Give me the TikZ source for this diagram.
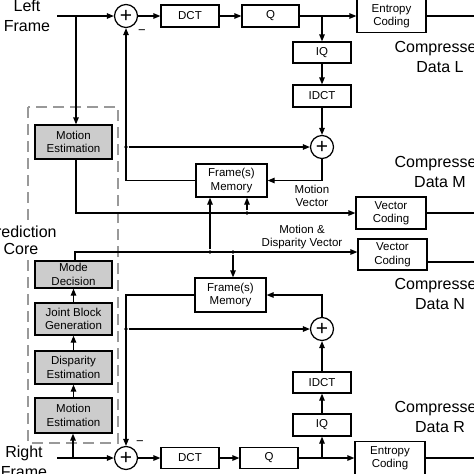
\documentclass[tikz,border=0pt]{standalone}
\usepackage{fontspec}
\setmainfont{Liberation Sans}
\usetikzlibrary{arrows.meta,calc}
\begin{document}
\begin{tikzpicture}[x=1pt,y=-1pt,
  line width=1.25pt,
  box/.style={draw, line width=1.25pt, inner sep=0pt, font=\fontsize{11.5}{13.5}\selectfont, align=center},
  gbox/.style={box, fill=gray!40},
  sumnode/.style={circle, draw, line width=1.25pt, minimum size=23pt, inner sep=0pt, font=\fontsize{21}{21}\selectfont},
  big/.style={font=\fontsize{16}{20}\selectfont, align=center, inner sep=1pt},
  lbl/.style={font=\fontsize{11.5}{13.5}\selectfont, align=center, inner sep=0pt},
  arr/.style={-{Triangle[length=7pt,width=5.5pt]}},
  dot/.style={circle, fill, inner sep=0pt, minimum size=3.8pt},
  corebox/.style={draw=gray!80, line width=2.5pt, dash pattern=on 11pt off 6pt},
  minus/.style={font=\fontsize{13}{13}\selectfont, inner sep=0pt}
]
\useasboundingbox (0,0) rectangle (474,474);
\draw[corebox] (28,107) rectangle (118,443);

% texts
\node[big] (lf) at (27,16) {Left\\Frame};
\node[big] (rf) at (24,462) {Right\\Frame};
\node[big, fill=white, font=\fontsize{16}{17}\selectfont] (pc) at (21,240) {Prediction\\Core};
\node[big] (cl) at (440,57) {Compressed\\Data L};
\node[big] (cm) at (440,172) {Compressed\\Data M};
\node[big] (cn) at (440,294) {Compressed\\Data N};
\node[big] (cr) at (440,417) {Compressed\\Data R};
\node[lbl] (mv) at (312,196) {Motion\\Vector};
\node[lbl] (mdv) at (302,237) {Motion \&\\Disparity Vector};

% top chain
\node[sumnode] (s1) at (126,16) {+};
\node[minus] (mi1) at (142,32) {−};
\node[box, minimum width=58pt, minimum height=22pt] (dct1) at (190,16) {DCT};
\node[box, minimum width=57pt, minimum height=22pt] (q1) at (270.5,16) {Q};
\node[box, minimum width=69pt, minimum height=33pt] (ec1) at (391.5,16) {Entropy\\Coding};
\node[box, minimum width=58pt, minimum height=21pt] (iq1) at (322,52.5) {IQ};
\node[box, minimum width=58pt, minimum height=22pt] (idct1) at (322,96) {IDCT};
\node[sumnode] (p1) at (322,147) {+};
\node[box, minimum width=71pt, minimum height=33pt] (m1) at (231.5,180.5) {Frame(s)\\Memory};
\node[box, minimum width=70pt, minimum height=32pt] (vc1) at (391,213) {Vector\\Coding};
\node[box, minimum width=69pt, minimum height=31pt] (vc2) at (392.5,254.5) {Vector\\Coding};
\node[box, minimum width=71pt, minimum height=34pt] (m2) at (230.5,295) {Frame(s)\\Memory};
\node[sumnode] (p2) at (322,329) {+};
\node[box, minimum width=58pt, minimum height=21pt] (idct2) at (322,382.5) {IDCT};
\node[box, minimum width=58pt, minimum height=22pt] (iq2) at (322,425) {IQ};
\node[sumnode] (s2) at (126,458) {+};
\node[minus] (mi2) at (140,443) {−};
\node[box, minimum width=58pt, minimum height=21pt] (dct2) at (190,458) {DCT};
\node[box, minimum width=58pt, minimum height=21pt] (q2) at (269,458) {Q};
\node[box, minimum width=70pt, minimum height=33pt] (ec2) at (390,458) {Entropy\\Coding};

% prediction core
\node[gbox, minimum width=77pt, minimum height=34pt] (me1) at (73.5,142) {Motion\\Estimation};
\node[gbox, minimum width=77pt, minimum height=27pt] (md) at (73.5,274.5) {Mode\\Decision};
\node[gbox, minimum width=77pt, minimum height=32pt] (jbg) at (73.5,319) {Joint Block\\Generation};
\node[gbox, minimum width=77pt, minimum height=33pt] (de) at (73.5,367.5) {Disparity\\Estimation};
\node[gbox, minimum width=77pt, minimum height=35pt] (me2) at (73.5,415.5) {Motion\\Estimation};

% coordinates
\coordinate (lfin) at (57,16);
\coordinate (rfin) at (57,458);
\coordinate (b1) at (76,16);
\coordinate (b2) at (322,16);
\coordinate (b3) at (73,458);
\coordinate (b4) at (322,458);
\coordinate (k1) at (76,213);
\coordinate (k2) at (75,252);
\coordinate (o1) at (474,16);
\coordinate (o2) at (474,213);
\coordinate (o3) at (474,262);
\coordinate (o4) at (474,458);

% top connectors
\draw[arr] (lfin) -- (s1);
\draw[arr] (b1) -- (b1 |- me1.north);
\draw[arr] (s1) -- (dct1);
\draw[arr] (dct1) -- (q1);
\draw[arr] (q1) -- (ec1);
\draw (ec1) -- (o1);
\draw[arr] (b2) -- (iq1);
\draw[arr] (iq1) -- (idct1);
\draw[arr] (idct1) -- (p1);
\draw[arr] (p1.south) |- (m1.east);
\draw[arr] (m1.west) -| (s1.south);
\node[dot] (d1) at (126,147) {};
\draw[arr] (d1) -- (p1.west);

% vectors
\draw[arr] (b1 |- me1.south) -- (k1) -- (k1 -| vc1.west);
\node[dot] (d2) at (247,213) {};
\draw[arr] (d2) -- (d2 |- m1.south);
\draw (vc1) -- (o2);
\draw[arr] (k2 |- md.north) -- (k2) -- (k2 -| vc2.west);
\node[dot] (d3) at (210,252) {};
\draw[arr] (d3) -- (d3 |- m1.south);
\node[dot] (d4) at (233,252) {};
\draw[arr] (d4) -- (d4 |- m2.north);
\draw (vc2.east |- o3) -- (o3);

% bottom connectors
\draw[arr] (p2.north) |- (m2.east);
\draw[arr] (m2.west) -| (s2.north);
\node[dot] (d5) at (126,329) {};
\draw[arr] (d5) -- (p2.west);
\draw[arr] (rfin) -- (s2);
\draw[arr] (b3) -- (b3 |- me2.south);
\draw[arr] (s2) -- (dct2);
\draw[arr] (dct2) -- (q2);
\draw[arr] (q2) -- (ec2);
\draw (ec2) -- (o4);
\draw[arr] (b4) -- (iq2);
\draw[arr] (iq2) -- (idct2);
\draw[arr] (idct2) -- (p2);
\draw[arr] (me2) -- (de);
\draw[arr] (de) -- (jbg);
\draw[arr] (jbg) -- (md);
\end{tikzpicture}
\end{document}
